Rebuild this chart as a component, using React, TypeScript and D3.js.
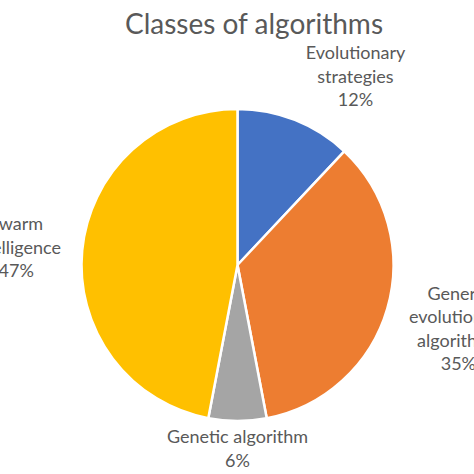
import * as d3 from 'd3';
import { useEffect, useRef } from 'react';

const categories = [
  'Evolutionary strategies',
  'General evolutionary algorithms',
  'Genetic algorithm',
  'Swarm intelligence',
];
const values = [12, 35, 6, 47];
const labelLines = [
  ['Evolutionary', 'strategies'],
  ['General', 'evolutionary', 'algorithms'],
  ['Genetic algorithm'],
  ['Swarm', 'intelligence'],
];
const colors = ['#4472C4', '#ED7D31', '#A5A5A5', '#FFC000'];
const title = 'Classes of algorithms';

// label placement: extra radius past the rim, and angle nudge in degrees
const labelLayout = [
  { r: 66, da: 10.5 },
  { r: 74, da: 0 },
  { r: 28, da: 0 },
  { r: 66, da: -0.9 },
];

export default function App() {
  const w = 474;
  const h = 474;
  const svgRef = useRef<SVGSVGElement>(null);

  useEffect(() => {
    if (svgRef.current == null) {
      return;
    }
    const svg = d3.select(svgRef.current);
    svg.selectAll('*').remove();

    const cx = 237.5;
    const cy = 265;
    const radius = 156;
    const font = 'Lato, "Open Sans", sans-serif';
    const textColor = '#595959';

    svg
      .append('text')
      .attr('x', 254)
      .attr('y', 34)
      .attr('text-anchor', 'middle')
      .style('font', `28px ${font}`)
      .attr('fill', textColor)
      .text(title);

    const total = d3.sum(values);
    const pie = d3
      .pie<number>()
      .sort(null)
      .value((d) => d);
    const arcs = pie(values);
    const arc = d3.arc<d3.PieArcDatum<number>>().innerRadius(0).outerRadius(radius);

    const g = svg.append('g').attr('transform', `translate(${cx}, ${cy})`);
    g.selectAll('path')
      .data(arcs)
      .join('path')
      .attr('d', arc)
      .attr('fill', (_, i) => colors[i])
      .attr('stroke', '#ffffff')
      .attr('stroke-width', 2.5)
      .attr('stroke-linejoin', 'round');

    const lineH = 23.5;
    arcs.forEach((a, i) => {
      const mid = (a.startAngle + a.endAngle) / 2 + (labelLayout[i].da * Math.PI) / 180;
      const dist = radius + labelLayout[i].r;
      const lx = Math.sin(mid) * dist;
      const ly = -Math.cos(mid) * dist;
      const lines = [...labelLines[i], `${Math.round((values[i] / total) * 100)}%`];
      const top = ly - ((lines.length - 1) * lineH) / 2;
      const t = g
        .append('text')
        .attr('text-anchor', 'middle')
        .style('font', `18px ${font}`)
        .attr('fill', textColor)
        .attr('aria-label', categories[i]);
      lines.forEach((line, j) => {
        t.append('tspan')
          .attr('x', lx)
          .attr('y', top + j * lineH + 6)
          .text(line);
      });
    });
  }, []);

  return (
    <svg
      ref={svgRef}
      width={w}
      height={h}
      style={{ position: 'absolute', left: 0, top: 0, background: '#ffffff' }}
    />
  );
}
